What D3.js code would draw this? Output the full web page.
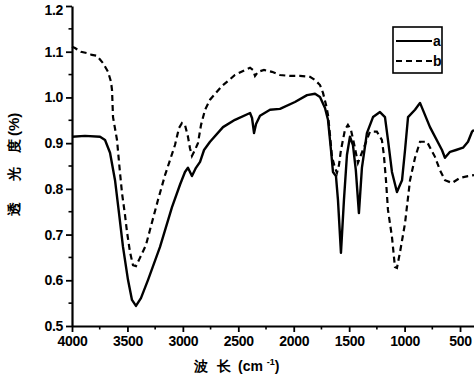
<!DOCTYPE html>
<html><head><meta charset="utf-8">
<script src="https://cdn.jsdelivr.net/npm/d3@7"></script>
<style>
html,body{margin:0;padding:0;background:#fff;}
svg{display:block;}
text{font-family:"Liberation Sans",Arial,sans-serif;font-weight:bold;fill:#000;}
</style></head>
<body>
<svg id="chart" width="474" height="377"></svg>
<script>
const seriesNames = ["a", "b"];
const xTicks = [4000, 3500, 3000, 2500, 2000, 1500, 1000, 500];
const yTicks = [0.5, 0.6, 0.7, 0.8, 0.9, 1.0, 1.1, 1.2];
const xLabelParts = ["波", "长", "(cm", "-1", ")"];
const yLabelParts = ["透", "光", "度", "(%)"];

const wavenumberA = [4000,3883,3747,3702,3657,3612,3576,3540,3495,3459,3423,3378,3314,3206,3098,3026,2981,2954,2918,2882,2845,2809,2755,2638,2530,2394,2376,2358,2340,2304,2214,2124,1989,1880,1808,1763,1718,1691,1664,1646,1619,1601,1574,1547,1520,1493,1466,1440,1412,1385,1340,1285,1222,1177,1150,1114,1069,1041,1023,996,969,906,861,771,663,636,590,536,473,428,392,374];
const transA = [0.914,0.916,0.914,0.907,0.879,0.819,0.747,0.673,0.601,0.557,0.544,0.561,0.601,0.673,0.760,0.809,0.837,0.846,0.828,0.846,0.859,0.885,0.903,0.935,0.951,0.966,0.955,0.922,0.942,0.960,0.973,0.975,0.990,1.005,1.008,1.001,0.977,0.951,0.885,0.837,0.828,0.776,0.660,0.776,0.874,0.914,0.896,0.841,0.747,0.846,0.922,0.957,0.968,0.957,0.907,0.837,0.793,0.809,0.819,0.885,0.957,0.973,0.988,0.935,0.885,0.868,0.881,0.885,0.890,0.903,0.925,0.929];

const wavenumberB = [4000,3973,3919,3865,3820,3775,3720,3675,3648,3639,3630,3594,3567,3549,3522,3504,3477,3450,3423,3387,3333,3297,3224,3161,3116,3071,3035,3008,2981,2954,2936,2918,2891,2864,2836,2800,2755,2647,2530,2440,2394,2367,2349,2322,2268,2196,2124,2034,1944,1853,1808,1763,1736,1709,1691,1673,1655,1628,1610,1592,1574,1538,1511,1484,1457,1421,1394,1358,1313,1250,1205,1187,1168,1150,1114,1087,1069,1041,996,951,906,861,798,726,681,636,572,500,428,374];
const transB = [1.111,1.108,1.100,1.097,1.093,1.091,1.075,1.056,1.034,1.016,0.957,0.907,0.835,0.791,0.743,0.706,0.662,0.633,0.631,0.649,0.677,0.710,0.776,0.830,0.863,0.896,0.933,0.944,0.940,0.914,0.889,0.872,0.885,0.900,0.940,0.973,0.995,1.025,1.049,1.060,1.065,1.060,1.047,1.056,1.060,1.056,1.049,1.047,1.047,1.045,1.038,1.027,1.010,0.984,0.962,0.918,0.870,0.846,0.835,0.852,0.885,0.929,0.940,0.929,0.900,0.857,0.874,0.896,0.925,0.925,0.907,0.874,0.819,0.754,0.695,0.629,0.627,0.662,0.725,0.819,0.868,0.903,0.903,0.870,0.841,0.819,0.813,0.824,0.828,0.830];

const svg = d3.select("#chart");
const mL = 72, mR = 474, mT = 6, mB = 326;
const x = d3.scaleLinear().domain([4000, 374]).range([mL, mR]);
const y = d3.scaleLinear().domain([0.5, 1.2]).range([mB, mT]);

// data lines
const line = d3.line().x(d => x(d[0])).y(d => y(d[1])).curve(d3.curveLinear);
const dataA = wavenumberA.map((w, i) => [w, transA[i]]);
const dataB = wavenumberB.map((w, i) => [w, transB[i]]);
svg.append("path").datum(dataA).attr("d", line)
  .attr("fill", "none").attr("stroke", "#000").attr("stroke-width", 2.4).attr("stroke-linejoin", "round");
svg.append("path").datum(dataB).attr("d", line)
  .attr("fill", "none").attr("stroke", "#000").attr("stroke-width", 2.2).attr("stroke-dasharray", "6,4");

const tickFont = "Liberation Sans, Arial, sans-serif";
// x axis
const xAxis = d3.axisBottom(x).tickValues(xTicks).tickSize(6).tickSizeOuter(0).tickPadding(4).tickFormat(d3.format("d"));
const gx = svg.append("g").attr("transform", `translate(0,${mB})`).call(xAxis);
gx.select(".domain").attr("stroke-width", 2.2);
gx.selectAll(".tick line").attr("stroke-width", 1.8);
gx.selectAll(".tick text").attr("font-size", 14).attr("font-weight", "bold").attr("font-family", tickFont).attr("letter-spacing", -0.3);
const xMinor = d3.range(3750, 300, -500);
svg.append("g").selectAll("line").data(xMinor).join("line")
  .attr("x1", d => x(d)).attr("x2", d => x(d)).attr("y1", mB).attr("y2", mB + 3.5)
  .attr("stroke", "#000").attr("stroke-width", 1.6);

// y axis
const yAxis = d3.axisLeft(y).tickValues(yTicks).tickSize(6).tickSizeOuter(0).tickPadding(3).tickFormat(d3.format(".1f"));
const gy = svg.append("g").attr("transform", `translate(${mL},0)`).call(yAxis);
gy.select(".domain").attr("stroke-width", 2.2);
gy.selectAll(".tick line").attr("stroke-width", 1.8);
gy.selectAll(".tick text").attr("font-size", 14).attr("font-weight", "bold").attr("font-family", tickFont).attr("letter-spacing", -0.3);
// keep the top label inside the picture
gy.selectAll(".tick text").filter(d => d === 1.2).attr("dy", "0.62em");
const yMinor = d3.range(0.55, 1.2, 0.1);
svg.append("g").selectAll("line").data(yMinor).join("line")
  .attr("x1", mL).attr("x2", mL - 3.5).attr("y1", d => y(d)).attr("y2", d => y(d))
  .attr("stroke", "#000").attr("stroke-width", 1.6);

// x axis label
const cjk = "Noto Sans CJK SC, sans-serif";
const xl = svg.append("text").attr("y", 371).attr("font-size", 14).attr("font-family", cjk);
xl.append("tspan").attr("x", 194).text(xLabelParts[0]);
xl.append("tspan").attr("x", 217).text(xLabelParts[1]);
xl.append("tspan").attr("x", 238).attr("font-family", tickFont).text(xLabelParts[2] + " ");
xl.append("tspan").attr("font-family", tickFont).attr("font-size", 9).attr("dy", -6).text(xLabelParts[3]);
xl.append("tspan").attr("font-family", tickFont).attr("dy", 6).text(xLabelParts[4]);

// y axis label (rotated, reads bottom-to-top)
const yl = svg.append("text").attr("transform", "translate(19,0) rotate(-90)").attr("font-size", 14).attr("font-family", cjk);
yl.append("tspan").attr("x", -216).text(yLabelParts[0]);
yl.append("tspan").attr("x", -181).text(yLabelParts[1]);
yl.append("tspan").attr("x", -153).text(yLabelParts[2]);
yl.append("tspan").attr("x", -136).attr("font-size", 15).text(yLabelParts[3]);

// legend
const lg = svg.append("g");
lg.append("rect").attr("x", 393).attr("y", 27).attr("width", 49).attr("height", 46)
  .attr("fill", "#fff").attr("stroke", "#000").attr("stroke-width", 1.6);
seriesNames.forEach((s, i) => {
  const ly = 41 + i * 20;
  lg.append("line").attr("x1", 396).attr("x2", 432).attr("y1", ly).attr("y2", ly)
    .attr("stroke", "#000").attr("stroke-width", 2.2).attr("stroke-dasharray", i === 1 ? "6,4" : null);
  lg.append("text").attr("x", 433).attr("y", ly + 5).attr("font-size", 14).text(s);
});
</script>
</body></html>
